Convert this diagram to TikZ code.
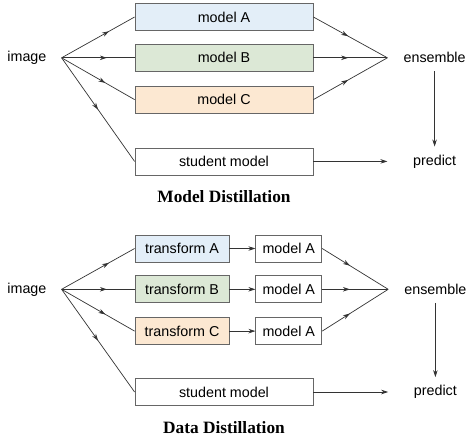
\documentclass[tikz,border=0pt]{standalone}
\usepackage{fontspec}
\setmainfont{Liberation Serif}
\setsansfont{Liberation Sans}
\usetikzlibrary{arrows.meta,positioning,decorations.markings}
\definecolor{fillA}{HTML}{E3EEF8}
\definecolor{fillB}{HTML}{DCE8D6}
\definecolor{fillC}{HTML}{FCE8D2}
\definecolor{boxgray}{HTML}{666666}
\definecolor{linegray}{HTML}{333333}
\newcommand\lblfont{\sffamily\fontsize{14.3}{17}\selectfont}
\newcommand\ttlfont{\rmfamily\bfseries\fontsize{17.3}{20}\selectfont}

\begin{document}
\begin{tikzpicture}[x=1pt,y=-1pt,
box/.style={draw=boxgray,line width=0.8pt,minimum height=27pt,inner sep=0pt,font=\lblfont},
lbl/.style={inner sep=0pt,font=\lblfont},
ttl/.style={inner sep=0pt,font=\ttlfont},
arrow/.style={draw=linegray,line width=0.7pt,-{Stealth[length=7pt,width=4.5pt]}},
fan/.style={draw=linegray,line width=0.7pt,postaction={decorate},
  decoration={markings,mark=at position #1 with {\arrow{Stealth[length=7pt,width=4.5pt]}}}}
]
\useasboundingbox (0,0) rectangle (474,440);
% Model Distillation
\node[box,fill=fillA,minimum width=178pt] (mA) at (224,17) {model A};
\node[box,fill=fillB,minimum width=178pt,below=13pt of mA] (mB) {model B};
\node[box,fill=fillC,minimum width=178pt,below=14pt of mB] (mC) {model C};
\node[box,minimum width=178pt,below=34pt of mC] (stu) {student model};
\node[lbl,left=88pt of mB] (img) {image};
\coordinate[left=73pt of mB] (fanL);
\coordinate[right=74pt of mB] (fanR);
\node[lbl,right=16pt of fanR] (ens) {ensemble};
\node[lbl] (pred) at (ens |- stu) {predict};
\coordinate (predin) at (stu -| fanR);
\node[ttl,below=15pt of stu] (ttl1) {Model Distillation};
\draw[fan=0.65] (fanL) -- (mA.west);
\draw[fan=0.62] (fanL) -- (mB.west);
\draw[fan=0.6] (fanL) -- (mC.west);
\draw[fan=0.5] (fanL) -- (stu.west);
\draw[fan=0.47] (mA.east) -- (fanR);
\draw[fan=0.47] (mB.east) -- (fanR);
\draw[fan=0.47] (mC.east) -- (fanR);
\draw[arrow] (stu) -- (predin);
\draw[arrow,shorten <=8pt,shorten >=8pt] (ens.south) -- (ens.south |- pred.north);

% Data Distillation
\node[box,fill=fillA,minimum width=94pt] (tA) at (182,248.5) {transform A};
\node[box,fill=fillB,minimum width=94pt,below=13pt of tA] (tB) {transform B};
\node[box,fill=fillC,minimum width=94pt,below=14pt of tB] (tC) {transform C};
\node[box,minimum width=66pt,right=26pt of tA] (m1) {model A};
\node[box,minimum width=66pt,right=26pt of tB] (m2) {model A};
\node[box,minimum width=66pt,right=26pt of tC] (m3) {model A};
\node[box,minimum width=178pt] (stu2) at (224,392) {student model};
\node[lbl,left=88pt of tB] (img2) {image};
\coordinate[left=73pt of tB] (fanL2);
\coordinate[right=66pt of m2] (fanR2);
\node[lbl,right=16pt of fanR2] (ens2) {ensemble};
\node[lbl] (pred2) at (ens2 |- stu2) {predict};
\coordinate (predin2) at (stu2 -| fanR2);
\node[ttl,below=15pt of stu2] (ttl2) {Data Distillation};
\draw[fan=0.65] (fanL2) -- (tA.west);
\draw[fan=0.62] (fanL2) -- (tB.west);
\draw[fan=0.6] (fanL2) -- (tC.west);
\draw[fan=0.5] (fanL2) -- (stu2.west);
\draw[arrow] (tA) -- (m1);
\draw[arrow] (tB) -- (m2);
\draw[arrow] (tC) -- (m3);
\draw[fan=0.42] (m1.east) -- (fanR2);
\draw[fan=0.42] (m2.east) -- (fanR2);
\draw[fan=0.42] (m3.east) -- (fanR2);
\draw[arrow] (stu2) -- (predin2);
\draw[arrow,shorten <=8pt,shorten >=8pt] (ens2.south) -- (ens2.south |- pred2.north);
\end{tikzpicture}
\end{document}
